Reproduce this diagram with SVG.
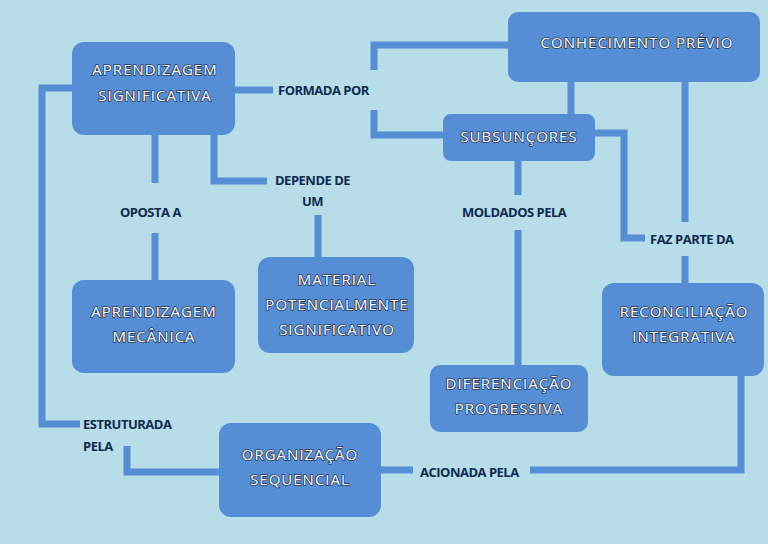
<svg xmlns="http://www.w3.org/2000/svg" width="768" height="544" viewBox="0 0 768 544">
<style>
.box{fill:#558ED5}
.bt{font-family:"Open Sans","Noto Sans",sans-serif;font-size:15px;fill:#fff;stroke:#2a3a55;stroke-width:1.6px;paint-order:stroke;letter-spacing:1px;text-anchor:middle}
.lb{font-family:"Open Sans","Noto Sans",sans-serif;font-size:13px;font-weight:bold;fill:#0F2A4F;letter-spacing:-0.5px}
.c{fill:none;stroke:#558ED5;stroke-width:7}
</style>
<rect width="768" height="544" fill="#B7DDE8"/>
<g id="connectors">
<polyline class="c" points="72,88 42,88 42,424 80,424"/>
<polyline class="c" points="127,446 127,472 219,472"/>
<line class="c" x1="381" y1="470" x2="413" y2="470"/>
<polyline class="c" points="530,470 741,470 741,376"/>
<line class="c" x1="235" y1="90" x2="273" y2="90"/>
<polyline class="c" points="374,70 374,45 508,45"/>
<polyline class="c" points="374,110 374,135 443,135"/>
<line class="c" x1="571" y1="82" x2="571" y2="114"/>
<line class="c" x1="685" y1="82" x2="685" y2="222"/>
<line class="c" x1="685" y1="256" x2="685" y2="283"/>
<polyline class="c" points="595,133 624,133 624,238 645,238"/>
<line class="c" x1="518" y1="161" x2="518" y2="195"/>
<line class="c" x1="518" y1="230" x2="518" y2="365"/>
<line class="c" x1="155" y1="135" x2="155" y2="183"/>
<line class="c" x1="155" y1="233" x2="155" y2="280"/>
<polyline class="c" points="214,135 214,181 267,181"/>
<line class="c" x1="318" y1="215" x2="318" y2="257"/>
<text class="lb" x="278" y="95">FORMADA POR</text>
<text class="lb" x="120" y="217">OPOSTA A</text>
<text class="lb" x="275" y="185">DEPENDE DE</text>
<text class="lb" x="302" y="206">UM</text>
<text class="lb" x="462" y="217">MOLDADOS PELA</text>
<text class="lb" x="650" y="244">FAZ PARTE DA</text>
<text class="lb" x="83" y="429">ESTRUTURADA</text>
<text class="lb" x="83" y="451">PELA</text>
<text class="lb" x="420" y="477">ACIONADA PELA</text>
</g>
<g id="aprendizagem-significativa"><rect class="box" x="72" y="42" width="163" height="93" rx="12"/><text class="bt" x="155" y="75">APRENDIZAGEM</text><text class="bt" x="155" y="101">SIGNIFICATIVA</text></g>
<g id="conhecimento-previo"><rect class="box" x="508" y="12" width="252" height="70" rx="10"/><text class="bt" x="637" y="48">CONHECIMENTO PRÉVIO</text></g>
<g id="subsuncores"><rect class="box" x="443" y="114" width="152" height="47" rx="8"/><text class="bt" x="519" y="142">SUBSUNÇORES</text></g>
<g id="aprendizagem-mecanica"><rect class="box" x="72" y="280" width="163" height="93" rx="12"/><text class="bt" x="154" y="317">APRENDIZAGEM</text><text class="bt" x="154" y="342">MECÂNICA</text></g>
<g id="material"><rect class="box" x="258" y="257" width="156" height="96" rx="12"/><text class="bt" x="337" y="285">MATERIAL</text><text class="bt" x="337" y="310">POTENCIALMENTE</text><text class="bt" x="337" y="335">SIGNIFICATIVO</text></g>
<g id="diferenciacao"><rect class="box" x="430" y="365" width="158" height="67" rx="10"/><text class="bt" x="509" y="389">DIFERENCIAÇÃO</text><text class="bt" x="509" y="414">PROGRESSIVA</text></g>
<g id="reconciliacao"><rect class="box" x="602" y="283" width="162" height="93" rx="12"/><text class="bt" x="684" y="317">RECONCILIAÇÃO</text><text class="bt" x="684" y="342">INTEGRATIVA</text></g>
<g id="organizacao"><rect class="box" x="219" y="423" width="162" height="94" rx="12"/><text class="bt" x="300" y="460">ORGANIZAÇÃO</text><text class="bt" x="300" y="485">SEQUENCIAL</text></g>
</svg>
